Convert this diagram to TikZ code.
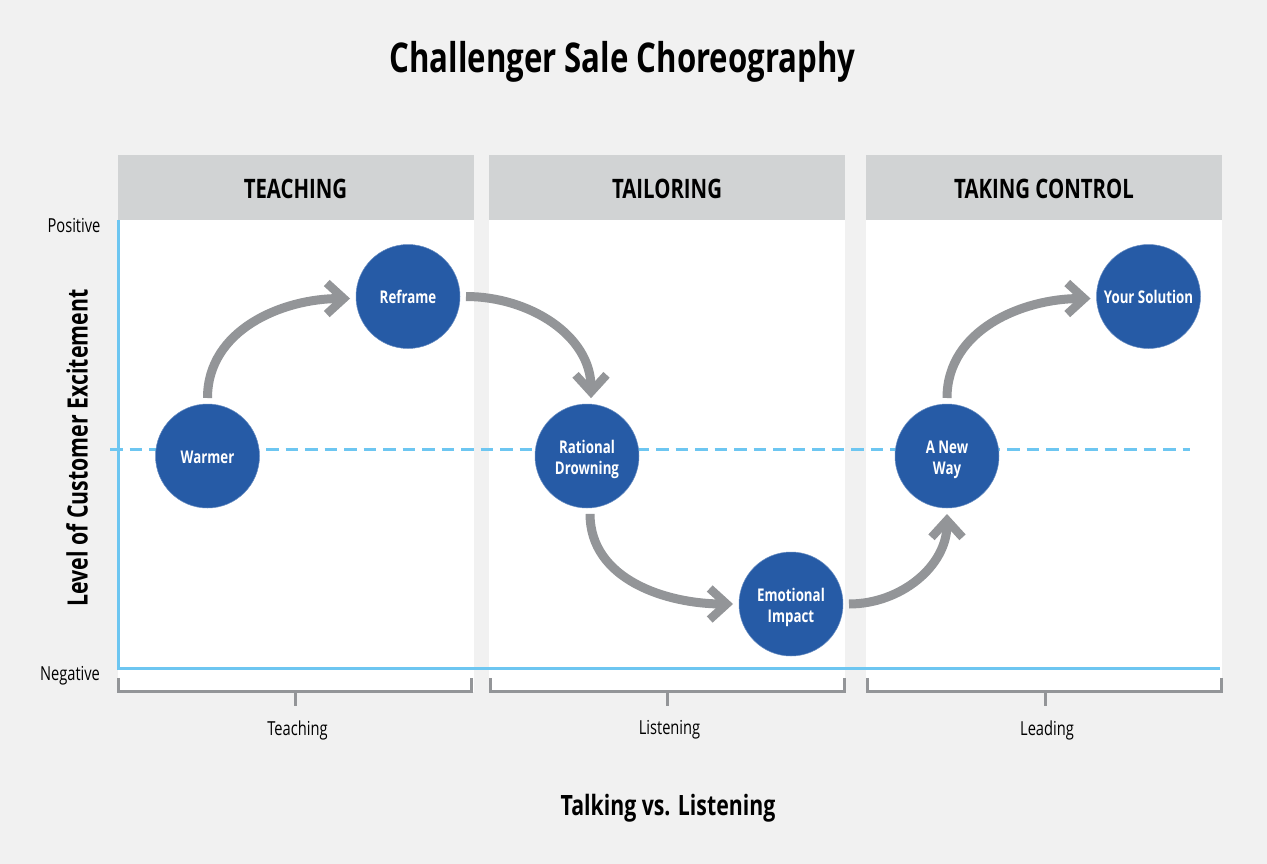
\documentclass[tikz,border=0pt]{standalone}
\usepackage{fontspec}
\setmainfont[FakeStretch=0.76]{Open Sans}
\usepackage{tikz}
\usetikzlibrary{arrows.meta}
\definecolor{pagegray}{HTML}{F1F1F1}
\definecolor{headgray}{HTML}{D1D3D4}
\definecolor{flowgray}{HTML}{939598}
\definecolor{axisblue}{HTML}{6DC6F1}
\definecolor{circleblue}{HTML}{265BA6}
\begin{document}
\begin{tikzpicture}[x=1pt,y=-1pt,
	main node/.style={circle,fill=circleblue,draw=circleblue!70!white,line width=0.5pt,align=center,minimum width=104pt,inner sep=0pt,outer sep=6pt,text=white,font=\fontsize{17.5}{21.5}\selectfont\bfseries,execute at begin node={\rule{0pt}{#1}}},
	main node/.default=15pt,
	head node/.style={fill=headgray,minimum width=356pt,minimum height=65pt,inner sep=0pt,text height=22pt,font=\fontsize{26.8}{32}\selectfont\bfseries},
	panel node/.style={fill=white,minimum width=356pt,minimum height=472pt,inner sep=0pt},
	small label/.style={font=\fontsize{19.3}{23}\selectfont},
	big label/.style={font=\fontsize{28}{33}\selectfont\bfseries},
	flow/.style={draw=flowgray,line width=9pt,-{Straight Barb[length=17pt,width=31pt,line width=8.5pt]}},
	axis/.style={draw=axisblue,line width=3pt},
	bracket/.style={draw=flowgray,line width=3pt}]

		\node[fill=pagegray,minimum width=1267pt,minimum height=864pt,inner sep=0pt] at (633.5,432) (page) {};
		\node[panel node] at (295.5,456) (panel1) {};
		\node[panel node] at (667,456) (panel2) {};
		\node[panel node] at (1044,456) (panel3) {};
		\node[head node] at (295.5,187.5) (head1) {TEACHING};
		\node[head node] at (667,187.5) (head2) {TAILORING};
		\node[head node] at (1044,187.5) (head3) {TAKING CONTROL};

		\node[font=\fontsize{41}{49}\selectfont\bfseries] at (622.5,62) (title) {Challenger Sale Choreography};
		\node[big label,rotate=90] at (77,448) (ylabel) {Level of Customer Excitement};
		\node[big label] at (668,808) (xlabel) {Talking vs. Listening};
		\node[small label] at (74,225.5) (positive) {Positive};
		\node[small label] at (70,676) (negative) {Negative};
		\node[small label] at (297.5,730) (teaching) {Teaching};
		\node[small label] at (669.5,730) (listening) {Listening};
		\node[small label] at (1047,730) (leading) {Leading};

		\coordinate (origin) at (118,668);
		\coordinate (ytop) at (118,220);
		\coordinate (xend) at (1220,668);
		\coordinate (midleft) at (110,449);
		\coordinate (midright) at (1190,449);
		\draw[axis] (ytop) -- (origin) -- (xend);
		\draw[axis,dashed,dash pattern=on 12.5pt off 7pt] (midleft) -- (midright);

		\coordinate (b1a) at (118,678);
		\coordinate (b1b) at (118,691);
		\coordinate (b1c) at (471.5,691);
		\coordinate (b1d) at (471.5,678);
		\coordinate (b1e) at (295,691);
		\coordinate (b1f) at (295,706);
		\coordinate (b2a) at (490,678);
		\coordinate (b2b) at (490,691);
		\coordinate (b2c) at (844,691);
		\coordinate (b2d) at (844,678);
		\coordinate (b2e) at (667,691);
		\coordinate (b2f) at (667,706);
		\coordinate (b3a) at (867,678);
		\coordinate (b3b) at (867,691);
		\coordinate (b3c) at (1221,691);
		\coordinate (b3d) at (1221,678);
		\coordinate (b3e) at (1045,691);
		\coordinate (b3f) at (1045,706);
		\draw[bracket] (b1a) -- (b1b) -- (b1c) -- (b1d) (b1e) -- (b1f);
		\draw[bracket] (b2a) -- (b2b) -- (b2c) -- (b2d) (b2e) -- (b2f);
		\draw[bracket] (b3a) -- (b3b) -- (b3c) -- (b3d) (b3e) -- (b3f);

		\node[main node] at (207.5,456) (warmer) {Warmer};
		\node[main node] at (408,296.5) (reframe) {Reframe};
		\node[main node=41.5pt] at (587,456) (rational) {Rational\\Drowning};
		\node[main node=41.5pt] at (791,604) (emotional) {Emotional\\Impact};
		\node[main node=41.5pt] at (947,456) (newway) {A New\\Way};
		\node[main node] at (1148.5,296.5) (solution) {Your Solution};

		\path
		(warmer) edge[flow,out=90,in=180] (reframe.182)
		(reframe) edge[flow,out=0,in=90] (rational.86)
		(rational.-87) edge[flow,out=-90,in=180] (emotional)
		(emotional) edge[flow,out=0,in=-90] (newway)
		(newway) edge[flow,out=90,in=180] (solution.182)
		;

\end{tikzpicture}
\end{document}
